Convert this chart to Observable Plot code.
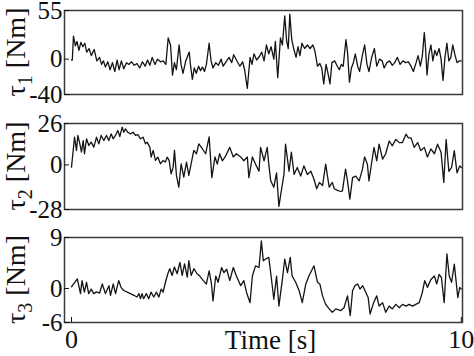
<!DOCTYPE html>
<html><head><meta charset="utf-8">
<script src="https://cdn.jsdelivr.net/npm/d3@7"></script>
<script src="https://cdn.jsdelivr.net/npm/@observablehq/plot@0.6"></script>
<style>
html,body{margin:0;padding:0;background:#fff;}
#chart{width:474px;height:356px;overflow:hidden;}
#chart svg{display:block;}
</style>
</head><body><div id="chart"></div>
<script>
// Time [s] / torque [Nm] samples
const t1 = [
0,0.02,0.05,0.10,0.14,0.19,0.24,0.29,0.34,0.39,
0.45,0.51,0.58,0.65,0.72,0.77,0.82,0.87,0.93,0.99,
1.05,1.11,1.17,1.22,1.28,1.34,1.41,1.47,1.54,1.61,
1.68,1.75,1.82,1.89,1.95,2.01,2.07,2.14,2.21,2.28,
2.35,2.42,2.48,2.54,2.59,2.64,2.69,2.76,2.81,2.86,
2.93,3.02,3.05,3.10,3.15,3.20,3.26,3.31,3.36,3.41,
3.46,3.53,3.58,3.63,3.70,3.77,3.84,3.89,3.98,4.04,
4.11,4.16,4.23,4.32,4.39,4.44,4.51,4.58,4.63,4.68,
4.75,4.82,4.88,4.94,5.00,5.06,5.12,5.19,5.23,5.29,
5.36,5.41,5.47,5.52,5.56,5.60,5.65,5.71,5.76,5.81,
5.86,5.91,5.98,6.05,6.12,6.19,6.24,6.31,6.37,6.42,
6.47,6.53,6.58,6.63,6.68,6.75,6.82,6.87,6.92,6.97,
7.04,7.08,7.13,7.18,7.23,7.28,7.34,7.39,7.46,7.52,
7.58,7.63,7.70,7.77,7.83,7.90,7.97,8.02,8.09,8.16,
8.23,8.29,8.36,8.43,8.50,8.57,8.64,8.71,8.77,8.84,
8.89,8.95,9.00,9.05,9.08,9.12,9.17,9.22,9.27,9.32,
9.37,9.43,9.48,9.53,9.58,9.63,9.68,9.73,9.78,9.83,
9.89,9.94,10.0];
const tau1 = [
-1,-1,26,15,20,10,19,14,18,8,
12,4,11,-2,2,-6,-2,-9,-3,-12,
-4,-14,-1,-12,-2,-11,-4,-6,-3,-7,
-5,-10,-3,-8,-1,-7,2,-6,0,-3,
-2,-6,24,16,-18,-4,-12,16,-6,-16,
-2,8,-6,-23,-10,-16,-8,-13,-9,-14,
-6,18,-2,-10,-4,-7,0,-8,-2,2,
-4,5,-1,-8,-3,-12,-33,2,-6,6,
-1,3,8,-2,16,6,14,0,20,-21,
24,16,49,20,12,51,22,10,2,14,
4,18,12,16,12,16,10,-8,-5,-10,
-28,-6,-16,-28,-4,-2,-8,-12,-6,-8,
22,8,-26,-10,-4,6,-8,-14,4,16,
-6,-14,2,12,-8,0,-2,-10,-4,-2,
-7,-4,2,-6,-2,-4,-3,-8,-14,-4,
4,-8,4,30,14,-18,6,16,-2,10,
4,12,0,-24,2,18,-2,2,16,6,
-4,-2,-2];

const t2 = [
0,0.077,0.128,0.162,0.214,0.256,0.299,0.333,0.385,0.444,
0.504,0.573,0.641,0.701,0.761,0.829,0.897,0.957,1.017,1.068,
1.128,1.188,1.239,1.299,1.342,1.385,1.444,1.513,1.581,1.641,
1.701,1.769,1.838,1.897,1.94,2.009,2.043,2.094,2.154,2.214,
2.282,2.35,2.41,2.453,2.504,2.556,2.607,2.641,2.692,2.752,
2.812,2.88,2.949,3.009,3.068,3.137,3.205,3.265,3.36,3.44,
3.53,3.60,3.68,3.74,3.80,3.87,3.94,4.06,4.15,4.23,
4.34,4.42,4.51,4.55,4.64,4.72,4.81,4.85,4.94,5.02,
5.06,5.11,5.19,5.26,5.32,5.41,5.45,5.49,5.58,5.64,
5.71,5.79,5.88,5.96,6.05,6.14,6.22,6.29,6.36,6.44,
6.52,6.61,6.69,6.74,6.82,6.91,6.95,7.03,7.08,7.14,
7.21,7.29,7.38,7.46,7.52,7.59,7.63,7.70,7.76,7.83,
7.89,7.98,8.06,8.15,8.23,8.32,8.41,8.49,8.58,8.64,
8.71,8.79,8.88,8.96,9.05,9.13,9.22,9.31,9.39,9.48,
9.55,9.61,9.68,9.75,9.82,9.89,9.96,10.0];
const tau2 = [
-1.4,17.4,9.1,18.5,13.2,8.1,15.3,7,16.4,12.2,
14.3,11.2,17.4,13.2,18.5,15.3,18.5,15.3,19.5,16.4,
18.5,21.6,17.8,23.7,20.5,22.6,20.5,19.5,20.5,18.5,
19,16.4,17.4,13.2,14.3,11.2,4.9,9.1,2.8,4.9,
0.7,2.8,1.8,4.9,2.8,-5.6,-1.4,9.1,-6.6,-14,
0.7,-7.7,1.8,-6.6,0.7,9.1,7,13.2,10,7,
17.6,-8,5,0.5,7,2.6,5,11,5,7,
5,2.6,5,-8,5,0.5,-4,11,2.6,11,
0.5,-10,-14,-5,-26,-12,-6,13,-4,8,
-6,-1.6,-7,-0.6,-6,-4,-9,-15,-11,-13,
0.5,-14,-11,-15,-16,-16.7,-16.3,-2.7,-10,-21.5,
-8,-7,-10,-3,5,0.5,-10,1.5,11,2.6,
13,3.6,7,15,12,16,14,14,19.3,17,
17,11,14,9,11,5,10,7,13,8,
-11,16,-4,-1.6,9,-5,-0.6,-1.6];

const t3 = [
0,0.02,0.15,0.23,0.27,0.33,0.385,0.44,0.505,0.57,
0.64,0.72,0.79,0.87,0.96,1.0,1.07,1.13,1.21,1.27,
1.34,1.43,1.51,1.60,1.68,1.73,1.77,1.81,1.85,1.92,
1.98,2.04,2.11,2.18,2.24,2.30,2.35,2.41,2.47,2.52,
2.58,2.64,2.71,2.78,2.84,2.90,2.97,3.01,3.07,3.14,
3.22,3.29,3.38,3.46,3.53,3.59,3.63,3.70,3.76,3.85,
3.91,3.98,4.06,4.15,4.23,4.34,4.42,4.49,4.58,4.64,
4.72,4.81,4.87,4.92,4.98,5.06,5.12,5.19,5.26,5.32,
5.41,5.47,5.54,5.61,5.66,5.75,5.84,5.92,6.01,6.09,
6.22,6.31,6.37,6.44,6.52,6.61,6.69,6.78,6.91,6.99,
7.08,7.15,7.21,7.27,7.34,7.40,7.47,7.55,7.61,7.66,
7.75,7.83,7.89,7.98,8.06,8.15,8.23,8.32,8.41,8.49,
8.58,8.66,8.75,8.83,8.92,9.00,9.06,9.13,9.22,9.31,
9.37,9.43,9.49,9.56,9.63,9.69,9.75,9.82,9.91,9.96,
10.0];
const tau3 = [
0.3,0.5,1.7,-0.9,1.4,-0.65,1.1,-0.9,-0.1,-0.9,
-0.6,-0.8,0.8,-0.9,0.5,-1.2,0.8,-0.9,1.4,0.2,
-0.35,-0.65,-0.9,-1.2,-1.5,-0.9,-1.8,-0.9,-1.8,-0.9,
-1.8,-0.65,-1.5,-0.65,-1.5,-0.1,-0.65,1.1,2.6,3.5,
2.3,3.8,2.6,4.6,2.3,4.35,2.0,4.9,2.3,3.5,
2.6,2.2,1.4,0.8,3.1,0.8,-2.2,2.2,1.1,3.7,
2.8,3.4,1.4,3.7,2.2,0.5,1.4,-0.7,-2.5,2.2,
4,3.7,8.4,4.9,5.2,5.5,2.2,-1.9,2.2,-3.1,
1.6,5.2,2.8,5.5,2.2,1.1,-0.4,-2.5,0.8,2.2,
4,1.1,0.8,-1.3,-2.8,-3.6,-4.2,-3.6,-3.9,-3.4,
-1.3,-4.8,-0.4,0.5,0.8,-0.1,0.5,-0.7,-1.6,-4.5,
-2.5,-1.3,-3.1,-2.5,-4.2,-3.1,-3.6,-2.8,-3.4,-2.8,
-3.1,-2.8,-3.1,-2.8,-2.5,-0.7,1.4,0.2,1.6,2.2,
0.8,2.5,1.9,-2.5,6.1,2.2,1.1,4.3,-1.6,0.2,
-0.1];

const yDomains = [[-40, 55], [-28, 26], [-6, 9]];
const yTicks = [[-40, 0, 55], [-28, 0, 26], [-6, 0, 9]];
const subs = ["1", "2", "3"];
const xTicks = [0, 10];
const xLabel = "Time [s]";
const unit = " [Nm]";

const FONT = "'Liberation Serif', 'Times New Roman', serif";
const layout = [
  {height: 110, top: 10, bottom: 16},
  {height: 115, top: 13, bottom: 16},
  {height: 131, top: 12, bottom: 34}
];
const series = [[t1, tau1], [t2, tau2], [t3, tau3]];
const chart = document.getElementById("chart");

series.forEach(([ts, vs], i) => {
  const data = ts.map((t, j) => ({t, v: vs[j]}));
  const L = layout[i];
  const last = i === 2;
  const marks = [
    Plot.line(data, {x: "t", y: "v", stroke: "#141414", strokeWidth: 1.3}),
    Plot.frame({stroke: "#3a3a3a", strokeWidth: 1.5}),
    Plot.axisY({ticks: yTicks[i], tickSize: -5, tickPadding: 7, tickFormat: d => String(d), fontSize: 25, label: null})
  ];
  if (last) {
    marks.push(
      Plot.axisX({ticks: xTicks, tickSize: -5, tickPadding: 12, tickFormat: d => String(d), fontSize: 26, label: null}),
      Plot.text([xLabel], {frameAnchor: "bottom", dx: 7, dy: 7.5, lineAnchor: "top", fontSize: 27, text: d => d})
    );
  }
  const svg = Plot.plot({
    width: 474,
    height: L.height,
    marginLeft: 64,
    marginRight: 12,
    marginTop: L.top,
    marginBottom: L.bottom,
    x: {domain: [-0.18, 10.03], axis: last ? undefined : null},
    y: {domain: yDomains[i]},
    style: {fontFamily: FONT, fontSize: "26px", color: "#111", background: "#fff", overflow: "visible"},
    marks
  });
  const cy = L.top + (L.height - L.top - L.bottom) / 2;
  const lab = d3.select(svg).append("text")
    .attr("transform", `translate(25,${cy}) rotate(-90)`)
    .attr("text-anchor", "middle")
    .attr("font-family", FONT)
    .attr("font-size", 28)
    .attr("fill", "#111");
  lab.append("tspan").text("τ");
  lab.append("tspan").attr("font-size", 20).attr("dy", 7).text(subs[i]);
  lab.append("tspan").attr("dy", -7).text(unit);
  chart.appendChild(svg);
});
</script>
</body></html>
